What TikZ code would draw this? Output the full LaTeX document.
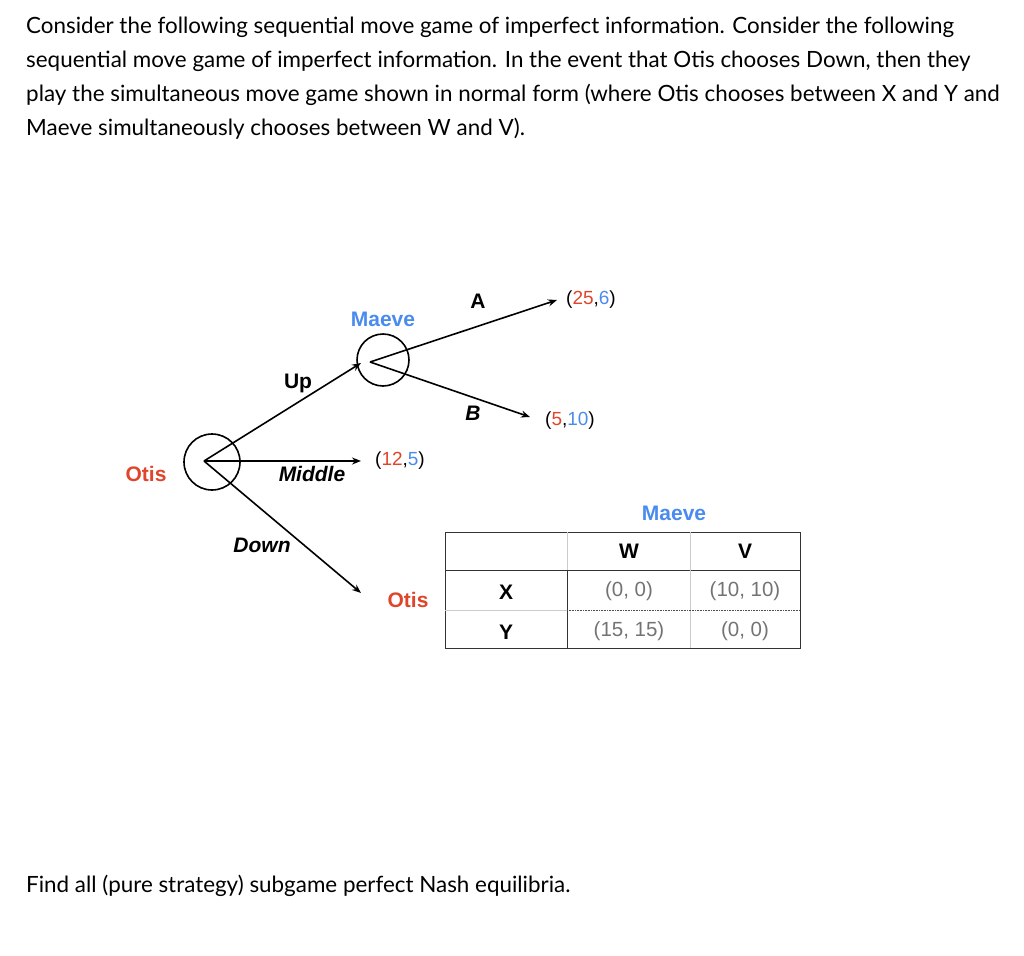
\documentclass[tikz,border=0pt]{standalone}
\usetikzlibrary{arrows.meta}
\usepackage{fontspec}
\setmainfont{Lato}
\newfontfamily\arialf{Liberation Sans}
\begin{document}
\begin{tikzpicture}[x=1pt,y=-1pt,
  body/.style={anchor=west,inner sep=0,font=\fontsize{22.4}{26}\selectfont},
  lab/.style={inner sep=0,font=\arialf\fontsize{21}{23}\selectfont\bfseries},
  pay/.style={inner sep=0,font=\arialf\fontsize{19}{22}\selectfont},
  cell/.style={inner sep=0,font=\arialf\fontsize{20.5}{22}\selectfont,text=black!55},
  edge/.style={line width=1.6pt,-{Stealth[length=9pt,width=7pt]}}]
\definecolor{ored}{HTML}{E0442A}
\definecolor{mblue}{HTML}{4A8BF0}
\useasboundingbox (0,0) rectangle (1024,955);
\node[body] (t1) at (26,27) {Consider the following sequential move game of imperfect information. Consider the following};
\node[body] (t2) at (26,61) {sequential move game of imperfect information. In the event that Otis chooses Down, then they};
\node[body] (t3) at (26,95) {play the simultaneous move game shown in normal form (where Otis chooses between X and Y and};
\node[body] (t4) at (26,129) {Maeve simultaneously chooses between W and V).};
\node[body] (t5) at (26,886) {Find all (pure strategy) subgame perfect Nash equilibria.};
% tree
\node[circle,draw,line width=1.6pt,minimum size=56pt,inner sep=0] (rc) at (212,462) {};
\node[circle,draw,line width=1.6pt,minimum size=52pt,inner sep=0] (mc) at (383,360) {};
\coordinate (r) at (204,461);
\coordinate (m) at (370,362);
\coordinate (mt) at (361,363);
\coordinate (ea) at (557,300);
\coordinate (eb) at (530,417);
\coordinate (em) at (361,461);
\coordinate (ed) at (361,593);
\draw[edge] (r) -- (mt);
\draw[edge] (r) -- (em);
\draw[edge] (r) -- (ed);
\draw[edge] (m) -- (ea);
\draw[edge] (m) -- (eb);
\node[lab,text=ored] (otis) at (146,474) {Otis};
\node[lab,text=mblue] (maeve) at (383,319) {Maeve};
\node[lab] (la) at (478,301) {A};
\node[lab] (lb) at (473,413) {\itshape B};
\node[lab] (lu) at (298,383) {Up};
\node[lab] (lm) at (312,474) {\itshape Middle};
\node[lab] (ld) at (262,545) {\itshape Down};
\node[lab,text=ored] (otis2) at (408,600) {Otis};
\node[pay] (p1) at (400,461) {(\textcolor{ored}{12},\textcolor{mblue}{5})};
\node[pay] (p2) at (591,300) {(\textcolor{ored}{25},\textcolor{mblue}{6})};
\node[pay] (p3) at (570,421) {(\textcolor{ored}{5},\textcolor{mblue}{10})};
% table
\draw[black!80,line width=0.8pt] (445,532) rectangle (800,648);
\draw[black!80,line width=0.8pt] (445,570) -- (800,570);
\draw[black!80,line width=0.8pt] (567,570) -- (567,648);
\draw[black!20,line width=0.6pt] (567,532) -- (567,570);
\draw[black!20,line width=0.6pt] (690,532) -- (690,648);
\draw[black!20,line width=0.6pt] (445,610) -- (567,610);
\draw[black!70,line width=0.6pt,densely dotted] (567,610) -- (800,610);
\node[lab,text=mblue] (tm) at (674,513) {Maeve};
\node[lab] (cw) at (629,551) {W};
\node[lab] (cv) at (745,551) {V};
\node[lab] (cx) at (506,592) {X};
\node[lab] (cy) at (506,632) {Y};
\node[cell] (xw) at (629,591) {(0, 0)};
\node[cell] (xv) at (745,591) {(10, 10)};
\node[cell] (yw) at (629,631) {(15, 15)};
\node[cell] (yv) at (745,631) {(0, 0)};
\end{tikzpicture}
\end{document}
